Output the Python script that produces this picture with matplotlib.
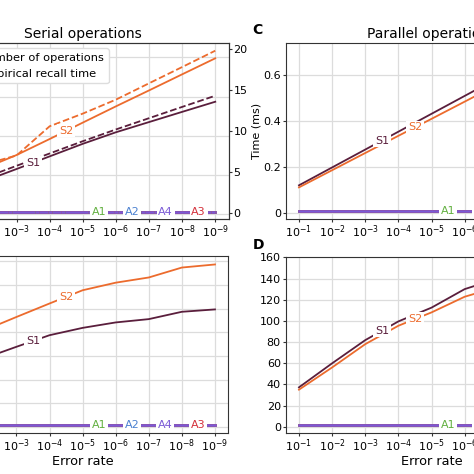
import numpy as np
import matplotlib
matplotlib.use('Agg')
import matplotlib.pyplot as plt
from matplotlib.ticker import NullLocator

# ---------------- data ----------------
error_rates = [1e-1, 1e-2, 1e-3, 1e-4, 1e-5, 1e-6, 1e-7, 1e-8, 1e-9]
labels_S = ["S1", "S2"]
labels_A = ["A1", "A2", "A3", "A4"]

# Serial: number of operations (left axis, solid)
serial_ops_S1 = [24.6, 41.9, 57.7, 73.8, 89.8, 104.5, 117.5, 130.5, 143.4]
serial_ops_S2 = [42.0, 58.0, 75.5, 95.9, 116.8, 137.5, 157.8, 178.3, 198.7]
serial_ops_A = [2.5] * 9
# Serial: empirical recall time in ms (right axis, dashed)
serial_time_S1 = [2.8, 4.23, 5.74, 7.25, 8.75, 10.19, 11.57, 12.95, 14.32]
serial_time_S2 = [5.2, 5.9, 7.0, 10.58, 12.13, 13.84, 15.84, 17.83, 19.83]
serial_time_A = [0.08] * 9

# Serial bottom panel (left axis)
serial_b_S1 = [230, 289, 339, 388, 419, 442, 456, 487, 497]
serial_b_S2 = [340, 407, 465, 522, 578, 610, 632, 674, 687]
serial_b_A = [8.0] * 9

# Parallel: time (ms)
par_time_S1 = [0.120, 0.198, 0.276, 0.354, 0.432, 0.510, 0.588, 0.666, 0.744]
par_time_S2 = [0.111, 0.186, 0.261, 0.336, 0.410, 0.485, 0.560, 0.635, 0.710]
par_time_A = [0.006] * 9

# Parallel bottom panel
par_b_S1 = [37.2, 59.9, 81.8, 99.5, 112.5, 130.0, 140.0, 147.0, 153.0]
par_b_S2 = [35.0, 56.0, 78.0, 95.4, 108.0, 122.8, 132.0, 139.0, 145.0]
par_b_A = [1.3] * 9

col_S = {"S1": "#5a1e3c", "S2": "#ec6b2d"}
col_A = {"A1": "#62b040", "A2": "#4a80d0", "A3": "#d4303a", "A4": "#7a5ad6"}

# label positions (x) for inline labels
label_x_S = {"S1": 10**-3.5, "S2": 10**-4.5}
label_x_A = {"A1": 10**-5.5, "A2": 10**-6.5, "A4": 10**-7.5, "A3": 10**-8.5}

plt.rcParams['font.family'] = 'DejaVu Sans'
plt.rcParams['axes.edgecolor'] = '#333333'
plt.rcParams['xtick.color'] = '#333333'
plt.rcParams['ytick.color'] = '#333333'
plt.rcParams['xtick.labelcolor'] = 'black'
plt.rcParams['ytick.labelcolor'] = 'black'
plt.rcParams['xtick.labelsize'] = 8
plt.rcParams['ytick.labelsize'] = 8
plt.rcParams['xtick.major.size'] = 2.5
plt.rcParams['ytick.major.size'] = 2.5
plt.rcParams['xtick.major.pad'] = 0.5
plt.rcParams['ytick.major.pad'] = 1.0

W = 474.0
fig = plt.figure(figsize=(4.74, 4.74), dpi=100)


def px_axes(left, top, right, bottom):
    return fig.add_axes([left / W, 1 - bottom / W, (right - left) / W, (bottom - top) / W])


def setup_x(ax):
    ax.set_xscale('log')
    ax.set_xlim(10**-0.6, 10**-9.4)
    ax.set_xticks(error_rates)
    ax.xaxis.set_minor_locator(NullLocator())
    ax.grid(True, color='#dcdcdc', lw=0.9)
    ax.set_axisbelow(True)


def inline_label(ax_text, ax_data, x, xs, ys, text, color):
    lx = np.log10(xs)[::-1]
    ly = np.asarray(ys, dtype=float)[::-1]
    y = np.interp(np.log10(x), lx, ly)
    ax_text.text(x, y, text, transform=ax_data.transData, color=color,
                 fontsize=8, ha='center', va='center', zorder=10,
                 bbox=dict(boxstyle='square,pad=0.15', fc='white', ec='none'))


def draw_panel(ax, S1, S2, A, ls='-', ax_text=None, with_labels=True):
    ax_text = ax_text or ax
    for name, vals in zip(labels_S, [S1, S2]):
        ax.plot(error_rates, vals, color=col_S[name], lw=1.3, ls=ls)
    for name in labels_A:
        ax.plot(error_rates, A, color=col_A[name], lw=1.8, ls=ls)
    if with_labels:
        for name, vals in zip(labels_S, [S1, S2]):
            inline_label(ax_text, ax, label_x_S[name], error_rates, vals, name, col_S[name])
        for name in labels_A:
            inline_label(ax_text, ax, label_x_A[name], error_rates, A, name, col_A[name])


# ---------------- top-left: serial ----------------
ax1 = px_axes(-63, 42.7, 228.5, 219.5)
setup_x(ax1)
ax1.set_ylim(-6.6, 218.6)
ax1.set_yticks([0, 50, 100, 150, 200])
ax1b = ax1.twinx()
ax1b.set_ylim(-0.83, 20.81)
ax1b.set_yticks([0, 5, 10, 15, 20])
draw_panel(ax1b, serial_time_S1, serial_time_S2, serial_time_A, ls='--', with_labels=False)
draw_panel(ax1, serial_ops_S1, serial_ops_S2, serial_ops_A, ls='-', ax_text=ax1b)
ax1.set_title('Serial operations', fontsize=10, pad=3.5)
h1, = ax1b.plot([], [], color='#444444', lw=1.3, ls='-')
h2, = ax1b.plot([], [], color='#444444', lw=1.3, ls='--')
ax1b.legend([h1, h2], ['Number of operations', 'Empirical recall time'],
            loc='upper left', fontsize=8.2, framealpha=1.0, edgecolor='#dddddd')

# ---------------- top-right: parallel ----------------
ax2 = px_axes(285.7, 42.7, 577.4, 219.5)
setup_x(ax2)
ax2.set_ylim(-0.029, 0.742)
ax2.set_yticks([0, 0.2, 0.4, 0.6])
ax2.set_yticklabels(['0', '0.2', '0.4', '0.6'])
draw_panel(ax2, par_time_S1, par_time_S2, par_time_A)
ax2.set_title('Parallel operations', fontsize=10, pad=3.5)
ax2.set_ylabel('Time (ms)', fontsize=8, labelpad=1)

# ---------------- bottom-left ----------------
ax3 = px_axes(-63, 256.3, 228.2, 433.3)
setup_x(ax3)
ax3.set_ylim(-26.6, 721.5)
ax3.set_yticks([0, 100, 200, 300, 400, 500, 600, 700])
draw_panel(ax3, serial_b_S1, serial_b_S2, serial_b_A)
ax3.set_xlabel('Error rate', fontsize=9.3, labelpad=0.5)

# ---------------- bottom-right ----------------
ax4 = px_axes(285.7, 256.7, 577.4, 433.3)
setup_x(ax4)
ax4.set_ylim(-6.2, 160.6)
ax4.set_yticks([0, 20, 40, 60, 80, 100, 120, 140, 160])
draw_panel(ax4, par_b_S1, par_b_S2, par_b_A)
ax4.set_xlabel('Error rate', fontsize=9.3, labelpad=0.5)

fig.text(257 / W, 1 - 30 / W, 'C', fontsize=10, fontweight='bold', ha='center', va='center')
fig.text(258 / W, 1 - 245 / W, 'D', fontsize=10, fontweight='bold', ha='center', va='center')

fig.savefig('out.png', dpi=100)
